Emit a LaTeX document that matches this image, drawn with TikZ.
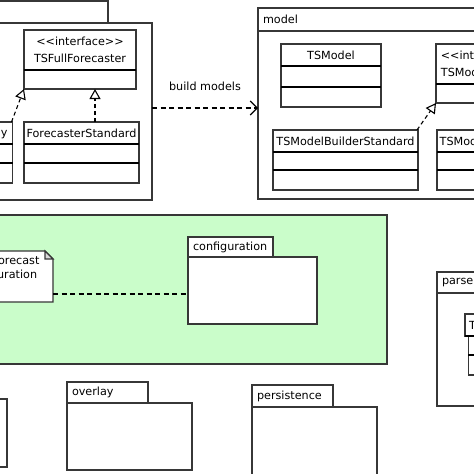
\documentclass[tikz,border=0pt]{standalone}
\usepackage{fontspec}
\setmainfont{DejaVu Sans}
\usetikzlibrary{positioning,arrows.meta}

\definecolor{pkggreen}{RGB}{202,253,202}
\definecolor{umlline}{RGB}{55,55,55}

\tikzset{
  pkgtab/.style={draw=umlline, fill=white, line width=1.1pt, outer sep=0pt, inner xsep=5pt, inner ysep=0pt, anchor=north west, align=left},
  pkgbody/.style={draw=umlline, fill=white, line width=1.1pt, outer sep=0pt, anchor=north west},
  classhead/.style={draw=umlline, fill=white, line width=1.1pt, outer sep=0pt, inner sep=1pt, minimum height=22pt, align=center},
  classpart/.style={draw=umlline, fill=white, line width=1.1pt, outer sep=0pt, minimum height=20pt},
  sepline/.style={line width=1.8pt, black},
  realize/.style={dash pattern=on 4pt off 3pt, line width=1.1pt, -{Triangle[length=10pt, width=11pt, open, fill=white]}},
  depend/.style={dash pattern=on 5pt off 3.5pt, line width=1.1pt, -{Straight Barb[length=7pt, width=14pt]}},
  notelink/.style={dash pattern=on 5pt off 3.5pt, line width=1.1pt},
}

\begin{document}
\begin{tikzpicture}[x=1pt, y=-1pt, font=\fontsize{11.2pt}{16.5pt}\selectfont]
\useasboundingbox (0,0) rectangle (474,474);
\clip (0,0) rectangle (474,474);

% packages
\node[pkgtab, minimum width=168pt, minimum height=22pt] (fctab) at (-60,1) {};
\node[pkgbody, minimum width=212pt, minimum height=177pt] (fcbody) at (fctab.south west) {};

\node[pkgtab, minimum width=260pt, minimum height=23pt, text width=250pt] (mtab) at (258,8) {model};
\node[pkgbody, minimum width=260pt, minimum height=168pt] (mbody) at (mtab.south west) {};

\node[pkgbody, fill=pkggreen, minimum width=447pt, minimum height=149pt] (grpbody) at (-60,215) {};

\node[pkgtab, minimum height=20pt, text width=75pt] (cfgtab) at (188,237) {configuration};
\node[pkgbody, minimum width=129pt, minimum height=67pt] (cfgbody) at (cfgtab.south west) {};

\node[pkgtab, minimum height=21pt, text width=70pt] (partab) at (437,272) {parser};
\node[pkgbody, minimum width=80pt, minimum height=113pt] (parbody) at (partab.south west) {};

\node[pkgbody, minimum width=67pt, minimum height=68pt] (blbody) at (-60,399) {};

\node[pkgtab, minimum height=21pt, text width=71pt] (ovtab) at (67,382) {overlay};
\node[pkgbody, minimum width=125pt, minimum height=67pt] (ovbody) at (ovtab.south west) {};

\node[pkgtab, minimum height=22pt, text width=71pt] (pstab) at (252,385) {persistence};
\node[pkgbody, minimum width=125pt, minimum height=80pt] (psbody) at (pstab.south west) {};

% note
\node[minimum width=113pt, minimum height=51pt, outer sep=0pt, anchor=north east] (cfgnote) at (53,251) {};
\draw[umlline, fill=white, line width=1.1pt] (cfgnote.north west) -- ([xshift=-8pt]cfgnote.north east)
  -- ([yshift=-8pt]cfgnote.north east) -- (cfgnote.south east) -- (cfgnote.south west) -- cycle;
\draw[umlline, fill=black!15, line width=1.1pt] ([xshift=-8pt]cfgnote.north east)
  -- ([xshift=-8pt, yshift=-8pt]cfgnote.north east) -- ([yshift=-8pt]cfgnote.north east) -- cycle;
\node[inner sep=0pt, anchor=north west, align=left, font=\fontsize{11.2pt}{14pt}\selectfont] (notetxt) at (-39,256.5) {Base Forecast\\Configuration};

% classes
\node[classhead, minimum width=112pt, minimum height=40pt, anchor=north west] (tsff) at (24,30) {<{}<interface>{}>\\TSFullForecaster};
\node[classpart, minimum width=112pt, minimum height=19pt, below=0pt of tsff] (tsff1) {};
\draw[sepline] (tsff.south west) -- (tsff.south east);

\node[classhead, minimum width=115pt, anchor=north west] (fstd) at (24,122) {ForecasterStandard};
\node[classpart, minimum width=115pt, minimum height=19pt, below=0pt of fstd] (fstd1) {};
\node[classpart, minimum width=115pt, below=0pt of fstd1] (fstd2) {};
\draw[sepline] (fstd.south west) -- (fstd.south east);
\draw[sepline] (fstd1.south west) -- (fstd1.south east);

\node[classhead, minimum width=112.5pt, anchor=north west] (fovl) at (-100,122) {ForecasterOverlay};
\node[classpart, minimum width=112.5pt, minimum height=19pt, below=0pt of fovl] (fovl1) {};
\node[classpart, minimum width=112.5pt, below=0pt of fovl1] (fovl2) {};
\draw[sepline] (fovl.south west) -- (fovl.south east);
\draw[sepline] (fovl1.south west) -- (fovl1.south east);

\node[classhead, minimum width=100pt, anchor=north west] (tsm) at (281,44) {TSModel};
\node[classpart, minimum width=100pt, minimum height=21pt, below=0pt of tsm] (tsm1) {};
\node[classpart, minimum width=100pt, below=0pt of tsm1] (tsm2) {};
\draw[sepline] (tsm.south west) -- (tsm.south east);
\draw[sepline] (tsm1.south west) -- (tsm1.south east);

\node[classhead, minimum width=97pt, minimum height=40pt, anchor=north west] (tsmb) at (436,44) {<{}<interface>{}>\\TSModelBuilder};
\node[classpart, minimum width=97pt, minimum height=19pt, below=0pt of tsmb] (tsmb1) {};
\draw[sepline] (tsmb.south west) -- (tsmb.south east);

\node[classhead, minimum width=145pt, anchor=north west] (tsmbs) at (273,130) {TSModelBuilderStandard};
\node[classpart, minimum width=145pt, minimum height=18pt, below=0pt of tsmbs] (tsmbs1) {};
\node[classpart, minimum width=145pt, below=0pt of tsmbs1] (tsmbs2) {};
\draw[sepline] (tsmbs.south west) -- (tsmbs.south east);
\draw[sepline] (tsmbs1.south west) -- (tsmbs1.south east);

\node[classhead, minimum width=104pt, anchor=north west] (tsms) at (437,130) {TSModelStandard};
\node[classpart, minimum width=104pt, minimum height=18pt, below=0pt of tsms] (tsms1) {};
\node[classpart, minimum width=104pt, below=0pt of tsms1] (tsms2) {};
\draw[sepline] (tsms.south west) -- (tsms.south east);
\draw[sepline] (tsms1.south west) -- (tsms1.south east);

\node[classhead, inner xsep=4pt, anchor=north west] (tsmp) at (465,314) {TSModelParser};
\node[classpart, minimum width=84pt, minimum height=19pt, below=0pt of tsmp] (tsmp1) {};
\node[classpart, minimum width=84pt, below=0pt of tsmp1] (tsmp2) {};
\draw[sepline] (tsmp.south west) -- (tsmp.south east);
\draw[sepline] (tsmp1.south west) -- (tsmp1.south east);

% connectors
\draw[realize] ([xshift=13.5pt]fstd.north) -- ([xshift=15pt]tsff1.south);
\draw[realize] ([xshift=-1pt]fovl.north east) -- (tsff1.south west);
\draw[realize] ([xshift=-1pt]tsmbs.north east) -- (tsmb1.south west);
\draw[depend] (fcbody.east |- 0,108) -- node[above=17pt, inner sep=0pt] (bmlabel) {build models} (mbody.west |- 0,108);
\draw[notelink] (cfgnote.east |- 0,294) -- (cfgbody.west |- 0,294);
\end{tikzpicture}
\end{document}
